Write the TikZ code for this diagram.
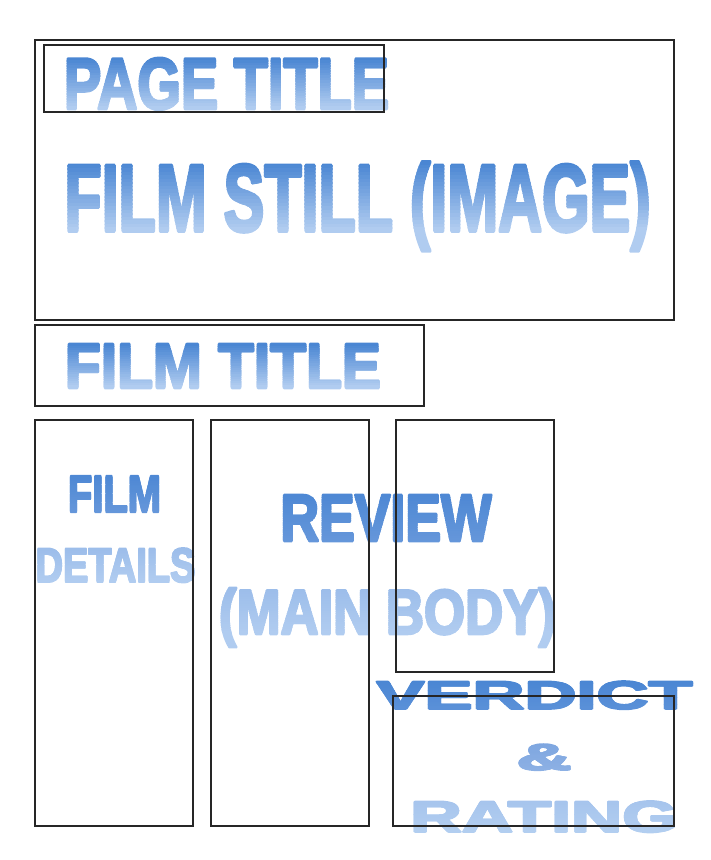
\documentclass[tikz,border=0pt]{standalone}
\usepackage{fontspec}
\setmainfont{Liberation Sans}
\newfontfamily\heavyfont{Liberation Sans}[BoldFeatures={FakeBold=4}]
\usepackage{graphicx}

\tikzset{
  frame/.style={draw=black!85, line width=1.2pt},
  wordtext/.style={inner sep=0pt, anchor=base, font=\heavyfont\bfseries}
}

% gradient word art: name, centre x, top, bottom, width, top colour, bottom colour, text
\newcommand\wordart[8]{%
  \definecolor{wtop}{HTML}{#6}%
  \definecolor{wbot}{HTML}{#7}%
  \pgfmathsetmacro\wah{#4-#3}%
  \foreach \k in {0,...,19} {%
    \pgfmathsetmacro\mix{100-\k*100/19}%
    \pgfmathsetmacro\ya{ifthenelse(\k==0, #3-20, #3+\k*\wah/20)}%
    \pgfmathsetmacro\yb{ifthenelse(\k==19, #4+40, #3+(\k+1)*\wah/20+0.6)}%
    \begin{scope}[line join=round]
      \clip (#2-#5,\ya) rectangle (#2+#5,\yb);
      \node[wordtext, text=wtop!\mix!wbot] (#1) at (#2,#4)
        {\resizebox{#5pt}{\wah pt}{#8}};
    \end{scope}}}

\begin{document}
\begin{tikzpicture}[x=1pt, y=-1pt]
  \useasboundingbox (0,0) rectangle (711,860);

  % texts
  \wordart{pagetitle}{226.5}{58}{109}{325}{4A86D3}{B0CCF0}{PAGE TITLE}
  \wordart{still}{357.5}{162}{231}{586}{4A86D3}{B0CCF0}{FILM STILL (IMAGE)}
  \wordart{filmtitle}{223}{344}{388}{316}{4A86D3}{B0CCF0}{FILM TITLE}
  \wordart{film}{114.5}{476}{512}{93}{4E88D4}{6496DA}{FILM}
  \wordart{details}{115.5}{548}{582}{160}{9CBDEA}{B0CCF0}{DETAILS}
  \wordart{review}{386}{495}{541}{211}{4E88D4}{6496DA}{REVIEW}
  \wordart{mainbody}{387.5}{588}{634}{337}{9CBDEA}{B0CCF0}{(MAIN BODY)}
  \wordart{verdict}{534.5}{681}{709}{316}{4A86D3}{5A90D8}{VERDICT}
  \wordart{amp}{544}{744}{770}{55}{7EA6E0}{8CB0E4}{\&}
  \wordart{rating}{544}{801}{832}{267}{A6C4ED}{B2CEF0}{RATING}

  % layout boxes
  \draw[frame] (35,40) rectangle (674,320);
  \draw[frame] (44,45) rectangle (384,112);
  \draw[frame] (35,325) rectangle (424,406);
  \draw[frame] (35,420) rectangle (193,826);
  \draw[frame] (211,420) rectangle (369,826);
  \draw[frame] (396,420) rectangle (554,672);
  \draw[frame] (393,696) rectangle (674,826);
\end{tikzpicture}
\end{document}
